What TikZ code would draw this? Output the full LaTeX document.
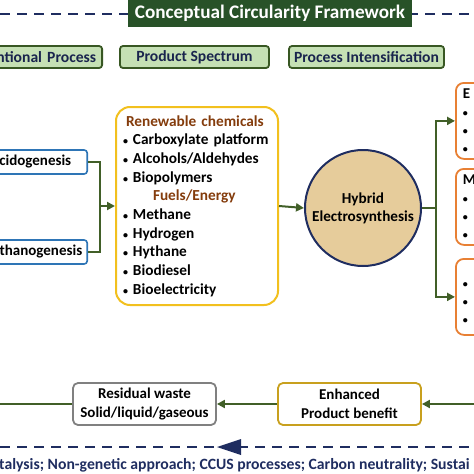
\documentclass[tikz,border=0pt]{standalone}
\usepackage{fontspec}
\setmainfont{Carlito}
\usetikzlibrary{arrows.meta}

\definecolor{navyline}{RGB}{31,45,96}
\definecolor{arrowgreen}{RGB}{65,95,40}
\definecolor{headfill}{RGB}{197,224,180}
\definecolor{headdraw}{RGB}{56,87,35}
\definecolor{titlegreen}{RGB}{40,82,40}
\definecolor{procblue}{RGB}{46,117,182}
\definecolor{specgold}{RGB}{242,192,30}
\definecolor{benefitgold}{RGB}{200,160,30}
\definecolor{chembrown}{RGB}{132,60,12}
\definecolor{outorange}{RGB}{232,128,52}
\definecolor{burlap}{RGB}{230,204,155}
\definecolor{wastegray}{RGB}{128,128,128}

\newcommand{\itm}{{\fontsize{10}{10}\selectfont•}\hspace{5pt}}

\begin{document}
\begin{tikzpicture}[x=1pt, y=-1pt,
  every node/.style={font=\bfseries\fontsize{15}{18.5}\selectfont, inner sep=0pt},
  titlebox/.style={fill=titlegreen, text=white, minimum width=284pt, minimum height=27pt,
    font=\bfseries\fontsize{19.2}{20}\selectfont},
  header/.style={draw=headdraw, fill=headfill, line width=1.8pt, rounded corners=3pt,
    minimum height=22pt, text=navyline!80!black, font=\bfseries\fontsize{15.6}{18}\selectfont},
  process/.style={draw=procblue, fill=white, line width=1.6pt, rounded corners=3pt,
    minimum height=24pt, align=right},
  specbox/.style={draw=specgold, line width=2pt, rounded corners=14pt, minimum width=162pt,
    minimum height=198pt, text width=148pt, align=left, inner xsep=7pt,
    font=\bfseries\fontsize{15.3}{18.7}\selectfont},
  hybrid/.style={circle, draw=navyline, line width=2pt, fill=burlap, minimum size=116pt,
    align=center, font=\bfseries\fontsize{15.2}{18}\selectfont},
  outbox/.style={draw=outorange, line width=1.8pt, rounded corners=8pt, minimum height=76pt,
    text width=50pt, align=left, inner xsep=7pt, anchor=north west,
    font=\bfseries\fontsize{15}{18}\selectfont},
  resultbox/.style={line width=1.8pt, rounded corners=5pt, minimum width=143pt,
    minimum height=42pt, align=center},
  flow/.style={draw=arrowgreen, line width=2pt},
  tip/.style={-{Triangle[length=8pt,width=8pt]}},
  dashline/.style={draw=navyline, line width=2.4pt, dash pattern=on 10pt off 7pt}
]
\useasboundingbox (0,0) rectangle (474,474);

% banner
\draw[dashline] (0,14) -- (474,14);
\node[titlebox] (title) at (270,13.5) {Conceptual Circularity Framework};

% column headers
\node[header, anchor=east, text width=110pt, align=right, inner xsep=6pt] (hconv) at (103,57) {ntional Process};
\node[header, minimum width=149pt] (hspec) at (194.5,57) {Product Spectrum};
\node[header, minimum width=155pt] (hint) at (366.5,57) {Process Intensification};

% conventional processes
\node[process, anchor=east, text width=80pt, inner xsep=16pt] (acido) at (88,162) {cidogenesis};
\node[process, anchor=east, text width=100pt, inner xsep=5pt] (metha) at (88,252) {thanogenesis};

% product spectrum
\node[specbox] (spec) at (197,206) {%
  \hspace*{3pt}\textcolor{chembrown}{Renewable chemicals}\\
  \itm Carboxylate platform\\
  \itm Alcohols/Aldehydes\\
  \itm Biopolymers\\
  \hspace*{30pt}\textcolor{chembrown}{Fuels/Energy}\\
  \itm Methane\\
  \itm Hydrogen\\
  \itm Hythane\\
  \itm Biodiesel\\
  \itm Bioelectricity};

% intensification
\node[hybrid] (hyb) at (363,208) {Hybrid\\Electrosynthesis};

\node[outbox] (outA) at (455,82) {E\\\itm\\\itm\\\itm};
\node[outbox] (outB) at (455,168) {M\\\itm\\\itm\\\itm};
\node[outbox] (outC) at (455,258) {\mbox{}\\\itm\\\itm\\\itm};

% circular return path
\node[resultbox, draw=wastegray] (resid) at (144.5,404) {Residual waste\\Solid/liquid/gaseous};
\node[resultbox, draw=benefitgold] (enh) at (349.5,404) {Enhanced\\Product benefit};

% connectors
\coordinate (jL) at (100,206);
\coordinate (jR) at (436,208);
\coordinate (rEnd) at (476,404);
\coordinate (lEnd) at (-2,404);

\draw[flow] (acido.east) -| (jL);
\draw[flow] (metha.east) -| (jL);
\draw[flow, tip] (jL) -- (spec.west);
\draw[flow, tip] (spec.east) -- (hyb.west);
\draw[flow] (hyb.east) -- (jR);
\draw[flow, tip] (jR) |- (outA.west);
\draw[flow, tip] (jR) |- (outC.west);
\draw[flow, tip] (rEnd) -- (enh.east);
\draw[flow, tip] (enh.west) -- (resid.east);
\draw[flow] (resid.west) -- (lEnd);

% key concepts
\draw[dashline] (0,447) -- (474,447);
\fill[navyline] (217,447) -- (241,439) -- (241,455) -- cycle;
\node[anchor=west, text=navyline, font=\bfseries\fontsize{15.7}{18}\selectfont] (keys) at (-1,465) {talysis; Non-genetic approach; CCUS processes; Carbon neutrality; Sustai};
\end{tikzpicture}
\end{document}
